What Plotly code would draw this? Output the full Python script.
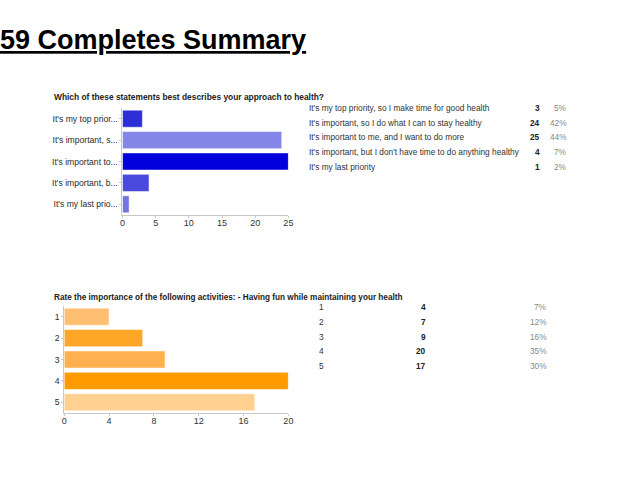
import plotly.graph_objects as go

W, H = 638, 478

# ---- data ----
q1_title = "Which of these statements best describes your approach to health?"
q1_full = [
    "It's my top priority, so I make time for good health",
    "It's important, so I do what I can to stay healthy",
    "It's important to me, and I want to do more",
    "It's important, but I don't have time to do anything healthy",
    "It's my last priority",
]
q1_short = ["It's my top prior...", "It's important, s...", "It's important to...",
            "It's important, b...", "It's my last prio..."]
q1_counts = [3, 24, 25, 4, 1]
q1_pcts = ["5%", "42%", "44%", "7%", "2%"]
q1_colors = ["#2e2ed9", "#8686e9", "#0000dc", "#4949dd", "#7474e3"]
q1_ticks = [0, 5, 10, 15, 20, 25]

q2_title = "Rate the importance of the following activities: - Having fun while maintaining your health"
q2_cats = ["1", "2", "3", "4", "5"]
q2_counts = [4, 7, 9, 20, 17]
q2_pcts = ["7%", "12%", "16%", "35%", "30%"]
q2_colors = ["#ffbf72", "#ffa528", "#ffb14f", "#ff9b00", "#ffd08f"]
q2_ticks = [0, 4, 8, 12, 16, 20]

main_title = "<u>59 Completes Summary</u>"

FONT = "Liberation Sans, Arial, sans-serif"


def px(x):
    return x / W


def py(y):
    return 1 - y / H


fig = go.Figure()
fig.add_trace(go.Bar(
    x=q1_counts, y=q1_short, orientation="h",
    marker=dict(color=q1_colors, line=dict(color="rgba(255,255,255,0.5)", width=1)),
    xaxis="x", yaxis="y", showlegend=False, hoverinfo="skip"))
fig.add_trace(go.Bar(
    x=q2_counts, y=q2_cats, orientation="h",
    marker=dict(color=q2_colors, line=dict(color="rgba(255,255,255,0.5)", width=1)),
    xaxis="x2", yaxis="y2", showlegend=False, hoverinfo="skip"))

axis_common = dict(showgrid=False, zeroline=False, showline=True, linecolor="#c8c8c8",
                   linewidth=1, fixedrange=True)
xfont = dict(family=FONT, size=9, color="#333")
yfont = dict(family=FONT, size=8.6, color="#2a2a2a")

fig.update_layout(
    width=W, height=H, margin=dict(l=0, r=0, t=0, b=0),
    paper_bgcolor="white", plot_bgcolor="white", bargap=0.2,
    xaxis=dict(domain=[px(121), px(289)], range=[0, 25], tickvals=q1_ticks,
               ticks="outside", ticklen=2, tickcolor="#c8c8c8", anchor="y",
               tickfont=xfont, ticklabelstandoff=-3, **axis_common),
    yaxis=dict(domain=[py(215), py(108)], autorange="reversed", anchor="x",
               ticks="outside", ticklen=2, tickcolor="#c8c8c8", tickfont=yfont,
               **axis_common),
    xaxis2=dict(domain=[px(62), px(289)], range=[0, 20], tickvals=q2_ticks,
                ticks="outside", ticklen=2, tickcolor="#c8c8c8", anchor="y2",
                tickfont=xfont, ticklabelstandoff=-3, **axis_common),
    yaxis2=dict(domain=[py(413), py(306)], autorange="reversed", anchor="x2",
                ticks="outside", ticklen=2, tickcolor="#c8c8c8", tickfont=yfont,
                **axis_common),
)

ann = []
ann.append(dict(text="<b>" + main_title + "</b>", x=px(0), y=py(40), xanchor="left",
                yanchor="middle", showarrow=False, xshift=-5,
                font=dict(family="Liberation Sans, Arial", size=27, color="black")))
ann.append(dict(text="<b>" + q1_title + "</b>", x=px(52), y=py(97), xanchor="left",
                yanchor="middle", showarrow=False, xshift=-2,
                font=dict(family=FONT, size=8.4, color="#222")))
ann.append(dict(text="<b>" + q2_title + "</b>", x=px(52), y=py(297), xanchor="left",
                yanchor="middle", showarrow=False, xshift=-2,
                font=dict(family=FONT, size=8.2, color="#222")))

row1_y = [108, 123, 137, 152, 167]
for i in range(len(q1_full)):
    ann.append(dict(text=q1_full[i], x=px(310), y=py(row1_y[i]), xanchor="left", yanchor="middle",
                    showarrow=False, xshift=-2, font=dict(family=FONT, size=8.3, color="#333")))
    ann.append(dict(text="<b>%d</b>" % q1_counts[i], x=px(546), y=py(row1_y[i]), xanchor="right",
                    yanchor="middle", showarrow=False, font=dict(family=FONT, size=8.3, color="#222")))
    ann.append(dict(text=q1_pcts[i], x=px(573), y=py(row1_y[i]), xanchor="right", yanchor="middle",
                    showarrow=False, font=dict(family=FONT, size=8.3, color="#888")))

row2_y = [307, 322, 337, 351, 366]
for i in range(len(q2_cats)):
    ann.append(dict(text=q2_cats[i], x=px(323), y=py(row2_y[i]), xanchor="center", yanchor="middle",
                    showarrow=False, font=dict(family=FONT, size=8.3, color="#333")))
    ann.append(dict(text="<b>%d</b>" % q2_counts[i], x=px(430), y=py(row2_y[i]), xanchor="right",
                    yanchor="middle", showarrow=False, font=dict(family=FONT, size=8.3, color="#222")))
    ann.append(dict(text=q2_pcts[i], x=px(553), y=py(row2_y[i]), xanchor="right", yanchor="middle",
                    showarrow=False, font=dict(family=FONT, size=8.3, color="#888")))

for a in ann:
    a.setdefault("xref", "paper")
    a.setdefault("yref", "paper")
fig.update_layout(annotations=ann)

fig.write_html("out.html", config={"displayModeBar": False})
